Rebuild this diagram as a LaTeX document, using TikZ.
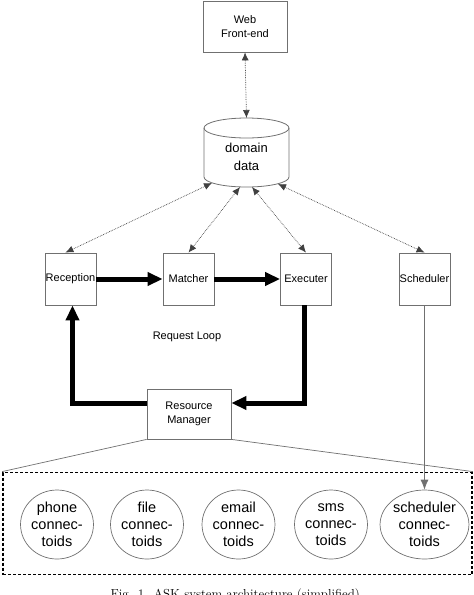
\documentclass[tikz,border=0pt]{standalone}
\usepackage{fontspec}
\setsansfont{Liberation Sans}
\usetikzlibrary{arrows.meta,shapes.geometric}
\definecolor{boxgray}{HTML}{707070}
\definecolor{dotgray}{HTML}{404040}
\begin{document}
\begin{tikzpicture}[x=1pt,y=-1pt,
  font=\sffamily\fontsize{11}{14}\selectfont,
  box/.style={draw=boxgray,line width=0.8pt,minimum width=51pt,minimum height=52pt,inner sep=0pt,align=center},
  dotarrow/.style={draw=dotgray,densely dotted,line width=0.7pt,{Latex[length=8pt,width=7pt]}-{Latex[length=8pt,width=7pt]}},
  flow/.style={line width=5pt,-{Triangle[length=15pt,width=13pt]}},
  thinline/.style={draw=boxgray,line width=0.7pt},
  conn/.style={ellipse,draw=boxgray,line width=0.7pt,minimum width=63pt,minimum height=69pt,inner sep=0pt,align=center,font=\sffamily\fontsize{14.5}{17}\selectfont}
]
\useasboundingbox (0,0) rectangle (474,595);

% Web front-end
\node[box,minimum width=84pt,minimum height=51pt] (web) at (245,26.5) {Web\\Front-end};

% domain data cylinder
\draw[boxgray,line width=0.8pt] (204,128) -- (204,177) arc[start angle=180,end angle=0,x radius=42.5,y radius=10] -- (289,128);
\draw[boxgray,line width=0.8pt] (246.5,128) ellipse[x radius=42.5,y radius=10];
\node[font=\sffamily\fontsize{13}{18}\selectfont,align=center] (db) at (246.5,157) {domain\\data};
\coordinate (dbT) at (246.5,118);
\coordinate (dbA) at (212,183);
\coordinate (dbB) at (240,187);
\coordinate (dbC) at (252,187);
\coordinate (dbD) at (278,184);

% row of components
\node[box] (rec) at (70.5,279) {Reception};
\node[box] (mat) at (188.5,279) {Matcher};
\node[box] (exe) at (306,279) {Executer};
\node[box] (sch) at (424.5,279) {Scheduler};

\node (loop) at (187,337) {Request Loop};

\node[box,minimum width=84pt,minimum height=50pt] (rm) at (189,414) {Resource\\Manager};

% dotted arrows
\draw[dotarrow] (web.south) -- (dbT);
\draw[dotarrow] (dbA) -- ([xshift=-5pt]rec.north);
\draw[dotarrow] (dbB) -- (mat.north);
\draw[dotarrow] (dbC) -- (exe.north);
\draw[dotarrow] (dbD) -- (sch.north);

% request loop
\draw[flow] (rec.east) -- (mat.west);
\draw[flow] (mat.east) -- (exe.west);
\draw[flow] ([xshift=-2pt]exe.south) |- ([yshift=11pt]rm.east);
\draw[flow] ([yshift=11pt]rm.west) -| ([xshift=2pt]rec.south);

% connectoid container
\node[draw,line width=1.8pt,dash pattern=on 3pt off 2pt,minimum width=469pt,minimum height=102pt,inner sep=0pt] (cbox) at (237.5,523.5) {};

\node[conn] (c1) at (57,524.5) {phone\\connec-\\toids};
\node[conn] (c2) at (147,524.5) {file\\connec-\\toids};
\node[conn] (c3) at (238.5,524.5) {email\\connec-\\toids};
\node[conn] (c4) at (331,524.5) {sms\\connec-\\toids};
\node[conn] (c5) at (424.5,524.5) {scheduler\\connec-\\toids};

\draw[thinline] (rm.south west) -- (cbox.north west);
\draw[thinline] (rm.south east) -- (cbox.north east);
\draw[thinline,-{Latex[length=10pt,width=8pt]}] (sch.south) -- (c5.north);

% caption (cut off at the bottom edge, as in the reference)
\node[font=\rmfamily\fontsize{13}{15}\selectfont,anchor=base] (cap) at (237,598) {Fig. 1. ASK system architecture (simplified).};
\end{tikzpicture}
\end{document}
